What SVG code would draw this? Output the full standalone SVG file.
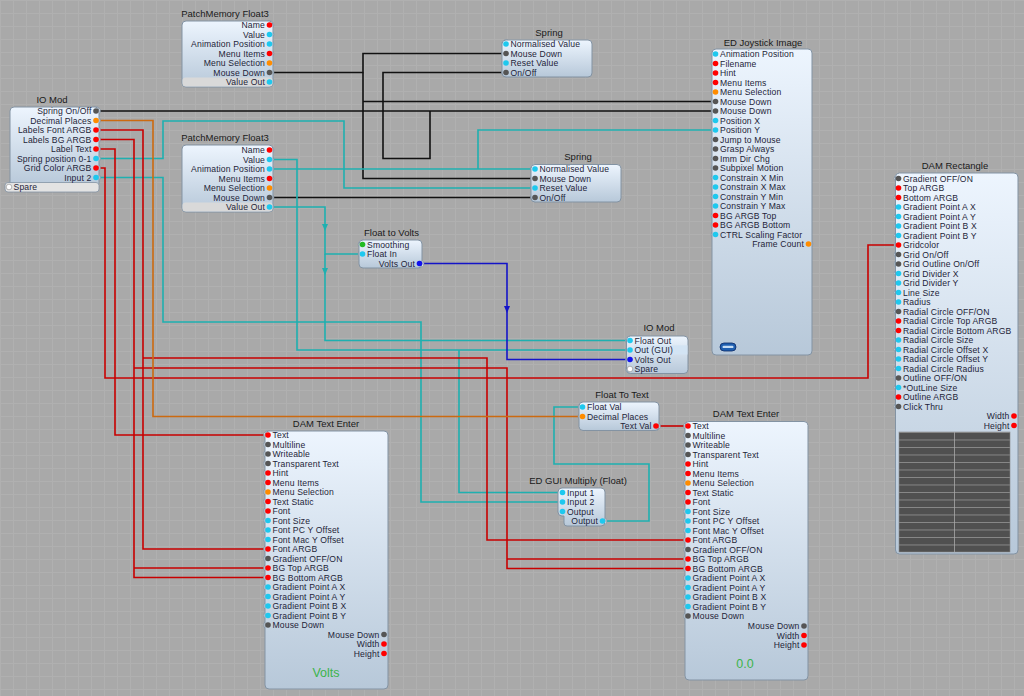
<svg xmlns="http://www.w3.org/2000/svg" width="1024" height="696" viewBox="0 0 1024 696">
<defs>
<pattern id="grid" width="13" height="13" patternUnits="userSpaceOnUse">
<rect width="13" height="13" fill="#a9a9a9"/>
<path d="M0 0.5H13M0.5 0V13" stroke="#b0b0b0" stroke-width="1"/>
</pattern>
<pattern id="gpanel" x="899" y="432" width="111" height="7.5" patternUnits="userSpaceOnUse">
<rect width="111" height="7.5" fill="#505050"/>
<path d="M0 0.4H111" stroke="#9a9a9a" stroke-width="0.8"/>
</pattern>
<linearGradient id="g" x1="0" y1="0" x2="0" y2="1">
<stop offset="0" stop-color="#edf5fe"/>
<stop offset="1" stop-color="#b7c8d9"/>
</linearGradient>
<path id="arr" d="M-3,-4 L3,-4 L0,3 Z"/>
<style>
.box{fill:url(#g);stroke:#8393a3;stroke-width:1}
.halo{fill:#eef3f8;stroke:#8393a3;stroke-width:0.8}
.band{fill:#d9d9d9}
text{font-family:"Liberation Sans",Arial,sans-serif}
.p{font-size:8.6px;fill:#1e1e38;letter-spacing:0.15px}
.e{text-anchor:end}
.h{font-size:9.5px;fill:#1a1a1a;text-anchor:middle}
.w{fill:none;stroke-width:1.6}
.k{stroke:#111}
.c{stroke:#1eb0b0}
.rd{stroke:#c80000}
.o{stroke:#cc6a10}
.b{stroke:#1414c8}
.dr{fill:#ff0000}
.dc{fill:#1ec8ee}
.do{fill:#ff8c00}
.dg{fill:#555}
.db{fill:#1111ee}
.dn{fill:#22bb22}
.dw{fill:#fff;stroke:#888;stroke-width:0.6}
.big{font-size:12.5px;fill:#3cb44b;text-anchor:middle}
</style>
</defs>
<rect width="1024" height="696" fill="url(#grid)"/>

<g id="connectors">
<path class="w k" d="M270,72.5 H363 V53.5 H506"/>
<path class="w k" d="M363,72.5 V178.5 H535"/>
<path class="w k" d="M363,101.5 H715.5"/>
<path class="w k" d="M96,111 H715.5"/>
<path class="w k" d="M430,111 V158.5 H383 V72.5 H506"/>
<path class="w k" d="M270,197.5 H535"/>
<path class="w c" d="M96,158.5 H163 V121 H344 V188 H535"/>
<path class="w c" d="M96,177.5 H163 V322 H421 V502 H562.5"/>
<path class="w c" d="M270,159.5 H297 V350 H630"/>
<path class="w c" d="M459,350 V492.5 H562.5"/>
<path class="w c" d="M270,207 H325 V254 H362.5"/>
<path class="w c" d="M325,254 V340.5 H630"/>
<path class="w c" d="M270,169 H535"/>
<path class="w c" d="M478,169 V130 H715.5"/>
<path class="w c" d="M602.5,521 H649 V464 H554 V407 H582.5"/>
<path class="w rd" d="M96,168 H105 V378 H868 V245 H898.5"/>
<path class="w rd" d="M96,149 H115 V435 H268"/>
<path class="w rd" d="M96,130 H143 V549 H268"/>
<path class="w rd" d="M143,358 H487 V540 H688"/>
<path class="w rd" d="M96,139.5 H134 V577.5 H268 M134,568 H268"/>
<path class="w rd" d="M134,368 H507 V568.5 H688 M507,559 H688"/>
<path class="w rd" d="M656,426 H688"/>
<path class="w o" d="M96,120.5 H153 V416.5 H582.5"/>
<path class="w b" d="M419.5,263.5 H507 V359.5 H630"/>
<use href="#arr" x="325" y="228" fill="#1eb0b0"/>
<use href="#arr" x="325" y="272" fill="#1eb0b0"/>
<use href="#arr" x="507" y="310" fill="#1414c8"/>
</g>

<g id="io-mod-1">
<text class="h" x="52" y="102.5">IO Mod</text>
<g class="halo"><circle cx="96" cy="111" r="4.3"/><circle cx="96" cy="120.5" r="4.3"/><circle cx="96" cy="130" r="4.3"/><circle cx="96" cy="139.5" r="4.3"/><circle cx="96" cy="149" r="4.3"/><circle cx="96" cy="158.5" r="4.3"/><circle cx="96" cy="168" r="4.3"/><circle cx="96" cy="177.5" r="4.3"/></g>
<rect class="box" x="10" y="107" width="89" height="80" rx="4"/>
<rect x="5" y="182.5" width="94" height="9.5" rx="3" fill="#e3e3e3" stroke="#8393a3" stroke-width="0.8"/>
<circle class="dg" cx="96" cy="111" r="2.8"/><circle class="do" cx="96" cy="120.5" r="2.8"/><circle class="dr" cx="96" cy="130" r="2.8"/><circle class="dr" cx="96" cy="139.5" r="2.8"/><circle class="dr" cx="96" cy="149" r="2.8"/><circle class="dc" cx="96" cy="158.5" r="2.8"/><circle class="dr" cx="96" cy="168" r="2.8"/><circle class="dc" cx="96" cy="177.5" r="2.8"/>
<circle class="dw" cx="9" cy="187" r="2.8"/>
<g class="p e">
<text x="91.5" y="114">Spring On/Off</text><text x="91.5" y="123.5">Decimal Places</text><text x="91.5" y="133">Labels Font ARGB</text><text x="91.5" y="142.5">Labels BG ARGB</text><text x="91.5" y="152">Label Text</text><text x="91.5" y="161.5">Spring position 0-1</text><text x="91.5" y="171">Grid Color ARGB</text><text x="91.5" y="180.5">Input 2</text>
</g>
<text class="p" x="13.5" y="190">Spare</text>
</g>

<g id="pm-float3-1">
<text class="h" x="225" y="16.5">PatchMemory Float3</text>
<g class="halo"><circle cx="269.5" cy="25" r="4.3"/><circle cx="269.5" cy="34.5" r="4.3"/><circle cx="269.5" cy="44" r="4.3"/><circle cx="269.5" cy="53.5" r="4.3"/><circle cx="269.5" cy="63" r="4.3"/><circle cx="269.5" cy="72.5" r="4.3"/><circle cx="269.5" cy="82" r="4.3"/></g>
<rect class="box" x="182" y="21" width="91" height="66" rx="4"/>
<rect class="band" x="182.5" y="77.5" width="90" height="9" rx="3"/>
<circle class="dr" cx="269.5" cy="25" r="2.8"/><circle class="dc" cx="269.5" cy="34.5" r="2.8"/><circle class="dc" cx="269.5" cy="44" r="2.8"/><circle class="dr" cx="269.5" cy="53.5" r="2.8"/><circle class="do" cx="269.5" cy="63" r="2.8"/><circle class="dg" cx="269.5" cy="72.5" r="2.8"/><circle class="dc" cx="269.5" cy="82" r="2.8"/>
<g class="p e">
<text x="265" y="28">Name</text><text x="265" y="37.5">Value</text><text x="265" y="47">Animation Position</text><text x="265" y="56.5">Menu Items</text><text x="265" y="66">Menu Selection</text><text x="265" y="75.5">Mouse Down</text><text x="265" y="85">Value Out</text>
</g>
</g>

<g id="pm-float3-2">
<text class="h" x="225" y="140.5">PatchMemory Float3</text>
<g class="halo"><circle cx="269.5" cy="150" r="4.3"/><circle cx="269.5" cy="159.5" r="4.3"/><circle cx="269.5" cy="169" r="4.3"/><circle cx="269.5" cy="178.5" r="4.3"/><circle cx="269.5" cy="188" r="4.3"/><circle cx="269.5" cy="197.5" r="4.3"/><circle cx="269.5" cy="207" r="4.3"/></g>
<rect class="box" x="182" y="145" width="91" height="67" rx="4"/>
<rect class="band" x="182.5" y="202.5" width="90" height="9" rx="3"/>
<circle class="dr" cx="269.5" cy="150" r="2.8"/><circle class="dc" cx="269.5" cy="159.5" r="2.8"/><circle class="dc" cx="269.5" cy="169" r="2.8"/><circle class="dr" cx="269.5" cy="178.5" r="2.8"/><circle class="do" cx="269.5" cy="188" r="2.8"/><circle class="dg" cx="269.5" cy="197.5" r="2.8"/><circle class="dc" cx="269.5" cy="207" r="2.8"/>
<g class="p e">
<text x="265" y="153">Name</text><text x="265" y="162.5">Value</text><text x="265" y="172">Animation Position</text><text x="265" y="181.5">Menu Items</text><text x="265" y="191">Menu Selection</text><text x="265" y="200.5">Mouse Down</text><text x="265" y="210">Value Out</text>
</g>
</g>

<g id="spring-1">
<text class="h" x="549" y="35.5">Spring</text>
<g class="halo"><circle cx="506" cy="44" r="4.3"/><circle cx="506" cy="53.5" r="4.3"/><circle cx="506" cy="63" r="4.3"/><circle cx="506" cy="72.5" r="4.3"/></g>
<rect class="box" x="502" y="40" width="90" height="37" rx="4"/>
<circle class="dc" cx="506" cy="44" r="2.8"/><circle class="dg" cx="506" cy="53.5" r="2.8"/><circle class="dc" cx="506" cy="63" r="2.8"/><circle class="dg" cx="506" cy="72.5" r="2.8"/>
<g class="p">
<text x="510.5" y="47">Normalised Value</text><text x="510.5" y="56.5">Mouse Down</text><text x="510.5" y="66">Reset Value</text><text x="510.5" y="75.5">On/Off</text>
</g>
</g>

<g id="spring-2">
<text class="h" x="578" y="159.5">Spring</text>
<g class="halo"><circle cx="535" cy="169" r="4.3"/><circle cx="535" cy="178.5" r="4.3"/><circle cx="535" cy="188" r="4.3"/><circle cx="535" cy="197.5" r="4.3"/></g>
<rect class="box" x="531" y="164.5" width="90" height="37.5" rx="4"/>
<circle class="dc" cx="535" cy="169" r="2.8"/><circle class="dg" cx="535" cy="178.5" r="2.8"/><circle class="dc" cx="535" cy="188" r="2.8"/><circle class="dg" cx="535" cy="197.5" r="2.8"/>
<g class="p">
<text x="539.5" y="172">Normalised Value</text><text x="539.5" y="181.5">Mouse Down</text><text x="539.5" y="191">Reset Value</text><text x="539.5" y="200.5">On/Off</text>
</g>
</g>

<g id="ed-joystick-image">
<text class="h" x="763" y="45.5">ED Joystick Image</text>
<g class="halo">
<circle cx="715.5" cy="54" r="4.3"/><circle cx="715.5" cy="63.5" r="4.3"/><circle cx="715.5" cy="73" r="4.3"/><circle cx="715.5" cy="82.5" r="4.3"/><circle cx="715.5" cy="92" r="4.3"/><circle cx="715.5" cy="101.5" r="4.3"/><circle cx="715.5" cy="111" r="4.3"/><circle cx="715.5" cy="120.5" r="4.3"/><circle cx="715.5" cy="130" r="4.3"/><circle cx="715.5" cy="139.5" r="4.3"/><circle cx="715.5" cy="149" r="4.3"/><circle cx="715.5" cy="158.5" r="4.3"/><circle cx="715.5" cy="168" r="4.3"/><circle cx="715.5" cy="177.5" r="4.3"/><circle cx="715.5" cy="187" r="4.3"/><circle cx="715.5" cy="196.5" r="4.3"/><circle cx="715.5" cy="206" r="4.3"/><circle cx="715.5" cy="215.5" r="4.3"/><circle cx="715.5" cy="225" r="4.3"/><circle cx="715.5" cy="234.5" r="4.3"/><circle cx="808.5" cy="244" r="4.3"/>
</g>
<rect class="box" x="712" y="49" width="100" height="306" rx="4"/>
<circle class="dc" cx="715.5" cy="54" r="2.8"/><circle class="dr" cx="715.5" cy="63.5" r="2.8"/><circle class="dr" cx="715.5" cy="73" r="2.8"/><circle class="dr" cx="715.5" cy="82.5" r="2.8"/><circle class="do" cx="715.5" cy="92" r="2.8"/><circle class="dg" cx="715.5" cy="101.5" r="2.8"/><circle class="dg" cx="715.5" cy="111" r="2.8"/><circle class="dc" cx="715.5" cy="120.5" r="2.8"/><circle class="dc" cx="715.5" cy="130" r="2.8"/><circle class="dg" cx="715.5" cy="139.5" r="2.8"/><circle class="dg" cx="715.5" cy="149" r="2.8"/><circle class="dg" cx="715.5" cy="158.5" r="2.8"/><circle class="dg" cx="715.5" cy="168" r="2.8"/><circle class="dc" cx="715.5" cy="177.5" r="2.8"/><circle class="dc" cx="715.5" cy="187" r="2.8"/><circle class="dc" cx="715.5" cy="196.5" r="2.8"/><circle class="dc" cx="715.5" cy="206" r="2.8"/><circle class="dr" cx="715.5" cy="215.5" r="2.8"/><circle class="dr" cx="715.5" cy="225" r="2.8"/><circle class="dc" cx="715.5" cy="234.5" r="2.8"/><circle class="do" cx="808.5" cy="244" r="2.8"/>
<g class="p">
<text x="720" y="57">Animation Position</text><text x="720" y="66.5">Filename</text><text x="720" y="76">Hint</text><text x="720" y="85.5">Menu Items</text><text x="720" y="95">Menu Selection</text><text x="720" y="104.5">Mouse Down</text><text x="720" y="114">Mouse Down</text><text x="720" y="123.5">Position X</text><text x="720" y="133">Position Y</text><text x="720" y="142.5">Jump to Mouse</text><text x="720" y="152">Grasp Always</text><text x="720" y="161.5">Imm Dir Chg</text><text x="720" y="171">Subpixel Motion</text><text x="720" y="180.5">Constrain X Min</text><text x="720" y="190">Constrain X Max</text><text x="720" y="199.5">Constrain Y Min</text><text x="720" y="209">Constrain Y Max</text><text x="720" y="218.5">BG ARGB Top</text><text x="720" y="228">BG ARGB Bottom</text><text x="720" y="237.5">CTRL Scaling Factor</text>
<text class="e" x="804" y="247">Frame Count</text>
</g>
<rect x="720" y="343" width="16" height="8" rx="4" fill="#1f5fb0" stroke="#0b2a66" stroke-width="0.8"/>
<rect x="722.5" y="345.7" width="11" height="2.4" rx="1.2" fill="#c4dcf4"/>
</g>

<g id="dam-rectangle">
<text class="h" x="955" y="168.5">DAM Rectangle</text>
<g class="halo">
<circle cx="898.5" cy="178.5" r="4.3"/><circle cx="898.5" cy="188" r="4.3"/><circle cx="898.5" cy="197.5" r="4.3"/><circle cx="898.5" cy="207" r="4.3"/><circle cx="898.5" cy="216.5" r="4.3"/><circle cx="898.5" cy="226" r="4.3"/><circle cx="898.5" cy="235.5" r="4.3"/><circle cx="898.5" cy="245" r="4.3"/><circle cx="898.5" cy="254.5" r="4.3"/><circle cx="898.5" cy="264" r="4.3"/><circle cx="898.5" cy="273.5" r="4.3"/><circle cx="898.5" cy="283" r="4.3"/><circle cx="898.5" cy="292.5" r="4.3"/><circle cx="898.5" cy="302" r="4.3"/><circle cx="898.5" cy="311.5" r="4.3"/><circle cx="898.5" cy="321" r="4.3"/><circle cx="898.5" cy="330.5" r="4.3"/><circle cx="898.5" cy="340" r="4.3"/><circle cx="898.5" cy="349.5" r="4.3"/><circle cx="898.5" cy="359" r="4.3"/><circle cx="898.5" cy="368.5" r="4.3"/><circle cx="898.5" cy="378" r="4.3"/><circle cx="898.5" cy="387.5" r="4.3"/><circle cx="898.5" cy="397" r="4.3"/><circle cx="898.5" cy="406.5" r="4.3"/><circle cx="1014" cy="416" r="4.3"/><circle cx="1014" cy="425.5" r="4.3"/>
</g>
<rect class="box" x="895.5" y="173" width="122.5" height="381" rx="4"/>
<circle class="dg" cx="898.5" cy="178.5" r="2.8"/><circle class="dr" cx="898.5" cy="188" r="2.8"/><circle class="dr" cx="898.5" cy="197.5" r="2.8"/><circle class="dc" cx="898.5" cy="207" r="2.8"/><circle class="dc" cx="898.5" cy="216.5" r="2.8"/><circle class="dc" cx="898.5" cy="226" r="2.8"/><circle class="dc" cx="898.5" cy="235.5" r="2.8"/><circle class="dr" cx="898.5" cy="245" r="2.8"/><circle class="dg" cx="898.5" cy="254.5" r="2.8"/><circle class="dg" cx="898.5" cy="264" r="2.8"/><circle class="dc" cx="898.5" cy="273.5" r="2.8"/><circle class="dc" cx="898.5" cy="283" r="2.8"/><circle class="dc" cx="898.5" cy="292.5" r="2.8"/><circle class="dc" cx="898.5" cy="302" r="2.8"/><circle class="dg" cx="898.5" cy="311.5" r="2.8"/><circle class="dr" cx="898.5" cy="321" r="2.8"/><circle class="dr" cx="898.5" cy="330.5" r="2.8"/><circle class="dc" cx="898.5" cy="340" r="2.8"/><circle class="dc" cx="898.5" cy="349.5" r="2.8"/><circle class="dc" cx="898.5" cy="359" r="2.8"/><circle class="dc" cx="898.5" cy="368.5" r="2.8"/><circle class="dg" cx="898.5" cy="378" r="2.8"/><circle class="dc" cx="898.5" cy="387.5" r="2.8"/><circle class="dr" cx="898.5" cy="397" r="2.8"/><circle class="dg" cx="898.5" cy="406.5" r="2.8"/><circle class="dr" cx="1014" cy="416" r="2.8"/><circle class="dr" cx="1014" cy="425.5" r="2.8"/>
<g class="p">
<text x="903" y="181.5">Gradient OFF/ON</text><text x="903" y="191">Top ARGB</text><text x="903" y="200.5">Bottom ARGB</text><text x="903" y="210">Gradient Point A X</text><text x="903" y="219.5">Gradient Point A Y</text><text x="903" y="229">Gradient Point B X</text><text x="903" y="238.5">Gradient Point B Y</text><text x="903" y="248">Gridcolor</text><text x="903" y="257.5">Grid On/Off</text><text x="903" y="267">Grid Outline On/Off</text><text x="903" y="276.5">Grid Divider X</text><text x="903" y="286">Grid Divider Y</text><text x="903" y="295.5">Line Size</text><text x="903" y="305">Radius</text><text x="903" y="314.5">Radial Circle OFF/ON</text><text x="903" y="324">Radial Circle Top ARGB</text><text x="903" y="333.5">Radial Circle Bottom ARGB</text><text x="903" y="343">Radial Circle Size</text><text x="903" y="352.5">Radial Circle Offset X</text><text x="903" y="362">Radial Circle Offset Y</text><text x="903" y="371.5">Radial Circle Radius</text><text x="903" y="381">Outline OFF/ON</text><text x="903" y="390.5">*OutLine Size</text><text x="903" y="400">Outline ARGB</text><text x="903" y="409.5">Click Thru</text>
<text class="e" x="1009.5" y="419">Width</text><text class="e" x="1009.5" y="428.5">Height</text>
</g>
<rect x="899" y="432" width="111" height="120" fill="url(#gpanel)" stroke="#888" stroke-width="0.6"/>
<path d="M954.5 432V552" stroke="#a8a8a8" stroke-width="0.8"/>
</g>

<g id="float-to-volts">
<text class="h" x="391.5" y="235.5">Float to Volts</text>
<g class="halo"><circle cx="362.5" cy="244.5" r="4.3"/><circle cx="362.5" cy="254" r="4.3"/><circle cx="419.5" cy="263.5" r="4.3"/></g>
<rect class="box" x="359" y="240" width="63" height="28" rx="4"/>
<circle class="dn" cx="362.5" cy="244.5" r="2.8"/><circle class="dc" cx="362.5" cy="254" r="2.8"/><circle class="db" cx="419.5" cy="263.5" r="2.8"/>
<g class="p">
<text x="367" y="247.5">Smoothing</text><text x="367" y="257">Float In</text><text class="e" x="415" y="266.5">Volts Out</text>
</g>
</g>

<g id="io-mod-2">
<text class="h" x="659" y="330.5">IO Mod</text>
<g class="halo"><circle cx="630" cy="340.5" r="4.3"/><circle cx="630" cy="350" r="4.3"/><circle cx="630" cy="359.5" r="4.3"/><circle cx="630" cy="369" r="4.3"/></g>
<rect class="box" x="626.5" y="336" width="61.5" height="37.5" rx="4"/>
<rect x="634" y="345.3" width="53.5" height="9.2" fill="#d3e4f4"/>
<circle class="dc" cx="630" cy="340.5" r="2.8"/><circle class="dc" cx="630" cy="350" r="2.8"/><circle class="db" cx="630" cy="359.5" r="2.8"/><circle class="dw" cx="630" cy="369" r="2.8"/>
<g class="p">
<text x="634.5" y="343.5">Float Out</text><text x="634.5" y="353">Out (GUI)</text><text x="634.5" y="362.5">Volts Out</text><text x="634.5" y="372">Spare</text>
</g>
</g>

<g id="float-to-text">
<text class="h" x="622" y="397.5">Float To Text</text>
<g class="halo"><circle cx="582.5" cy="407" r="4.3"/><circle cx="582.5" cy="416.5" r="4.3"/><circle cx="656" cy="426" r="4.3"/></g>
<rect class="box" x="579" y="402" width="80" height="28.5" rx="4"/>
<circle class="dc" cx="582.5" cy="407" r="2.8"/><circle class="do" cx="582.5" cy="416.5" r="2.8"/><circle class="dr" cx="656" cy="426" r="2.8"/>
<g class="p">
<text x="587" y="410">Float Val</text><text x="587" y="419.5">Decimal Places</text><text class="e" x="651.5" y="429">Text Val</text>
</g>
</g>

<g id="ed-gui-multiply">
<text class="h" x="578" y="483.5">ED GUI Multiply (Float)</text>
<g class="halo"><circle cx="562.5" cy="492.5" r="4.3"/><circle cx="562.5" cy="502" r="4.3"/><circle cx="562.5" cy="511.5" r="4.3"/><circle cx="602.5" cy="521" r="4.3"/></g>
<path class="box" d="M562,488 H601 Q605,488 605,492 V522 Q605,526 601,526 H567 Q564,526 564,523 V516 H562 Q558,516 558,512 V492 Q558,488 562,488 Z"/>
<circle class="dc" cx="562.5" cy="492.5" r="2.8"/><circle class="dc" cx="562.5" cy="502" r="2.8"/><circle class="dc" cx="562.5" cy="511.5" r="2.8"/><circle class="dc" cx="602.5" cy="521" r="2.8"/>
<g class="p">
<text x="567" y="495.5">Input 1</text><text x="567" y="505">Input 2</text><text x="567" y="514.5">Output</text><text class="e" x="598" y="524">Output</text>
</g>
</g>

<g id="dam-text-enter-1">
<text class="h" x="326" y="426.5">DAM Text Enter</text>
<g class="halo">
<circle cx="268" cy="435" r="4.3"/><circle cx="268" cy="444.5" r="4.3"/><circle cx="268" cy="454" r="4.3"/><circle cx="268" cy="463.5" r="4.3"/><circle cx="268" cy="473" r="4.3"/><circle cx="268" cy="482.5" r="4.3"/><circle cx="268" cy="492" r="4.3"/><circle cx="268" cy="501.5" r="4.3"/><circle cx="268" cy="511" r="4.3"/><circle cx="268" cy="520.5" r="4.3"/><circle cx="268" cy="530" r="4.3"/><circle cx="268" cy="539.5" r="4.3"/><circle cx="268" cy="549" r="4.3"/><circle cx="268" cy="558.5" r="4.3"/><circle cx="268" cy="568" r="4.3"/><circle cx="268" cy="577.5" r="4.3"/><circle cx="268" cy="587" r="4.3"/><circle cx="268" cy="596.5" r="4.3"/><circle cx="268" cy="606" r="4.3"/><circle cx="268" cy="615.5" r="4.3"/><circle cx="268" cy="625" r="4.3"/><circle cx="384" cy="634.5" r="4.3"/><circle cx="384" cy="644" r="4.3"/><circle cx="384" cy="653.5" r="4.3"/>
</g>
<rect class="box" x="265" y="431" width="123" height="258" rx="4"/>
<circle class="dr" cx="268" cy="435" r="2.8"/><circle class="dg" cx="268" cy="444.5" r="2.8"/><circle class="dg" cx="268" cy="454" r="2.8"/><circle class="dg" cx="268" cy="463.5" r="2.8"/><circle class="dr" cx="268" cy="473" r="2.8"/><circle class="dr" cx="268" cy="482.5" r="2.8"/><circle class="do" cx="268" cy="492" r="2.8"/><circle class="dr" cx="268" cy="501.5" r="2.8"/><circle class="dr" cx="268" cy="511" r="2.8"/><circle class="dc" cx="268" cy="520.5" r="2.8"/><circle class="dc" cx="268" cy="530" r="2.8"/><circle class="dc" cx="268" cy="539.5" r="2.8"/><circle class="dr" cx="268" cy="549" r="2.8"/><circle class="dg" cx="268" cy="558.5" r="2.8"/><circle class="dr" cx="268" cy="568" r="2.8"/><circle class="dr" cx="268" cy="577.5" r="2.8"/><circle class="dc" cx="268" cy="587" r="2.8"/><circle class="dc" cx="268" cy="596.5" r="2.8"/><circle class="dc" cx="268" cy="606" r="2.8"/><circle class="dc" cx="268" cy="615.5" r="2.8"/><circle class="dg" cx="268" cy="625" r="2.8"/><circle class="dg" cx="384" cy="634.5" r="2.8"/><circle class="dr" cx="384" cy="644" r="2.8"/><circle class="dr" cx="384" cy="653.5" r="2.8"/>
<g class="p">
<text x="272.5" y="438">Text</text><text x="272.5" y="447.5">Multiline</text><text x="272.5" y="457">Writeable</text><text x="272.5" y="466.5">Transparent Text</text><text x="272.5" y="476">Hint</text><text x="272.5" y="485.5">Menu Items</text><text x="272.5" y="495">Menu Selection</text><text x="272.5" y="504.5">Text Static</text><text x="272.5" y="514">Font</text><text x="272.5" y="523.5">Font Size</text><text x="272.5" y="533">Font PC Y Offset</text><text x="272.5" y="542.5">Font Mac Y Offset</text><text x="272.5" y="552">Font ARGB</text><text x="272.5" y="561.5">Gradient OFF/ON</text><text x="272.5" y="571">BG Top ARGB</text><text x="272.5" y="580.5">BG Bottom ARGB</text><text x="272.5" y="590">Gradient Point A X</text><text x="272.5" y="599.5">Gradient Point A Y</text><text x="272.5" y="609">Gradient Point B X</text><text x="272.5" y="618.5">Gradient Point B Y</text><text x="272.5" y="628">Mouse Down</text>
<text class="e" x="379.5" y="637.5">Mouse Down</text><text class="e" x="379.5" y="647">Width</text><text class="e" x="379.5" y="656.5">Height</text>
</g>
<text class="big" x="326" y="676.5">Volts</text>
</g>

<g id="dam-text-enter-2">
<text class="h" x="746" y="416.5">DAM Text Enter</text>
<g class="halo">
<circle cx="688" cy="426" r="4.3"/><circle cx="688" cy="435.5" r="4.3"/><circle cx="688" cy="445" r="4.3"/><circle cx="688" cy="454.5" r="4.3"/><circle cx="688" cy="464" r="4.3"/><circle cx="688" cy="473.5" r="4.3"/><circle cx="688" cy="483" r="4.3"/><circle cx="688" cy="492.5" r="4.3"/><circle cx="688" cy="502" r="4.3"/><circle cx="688" cy="511.5" r="4.3"/><circle cx="688" cy="521" r="4.3"/><circle cx="688" cy="530.5" r="4.3"/><circle cx="688" cy="540" r="4.3"/><circle cx="688" cy="549.5" r="4.3"/><circle cx="688" cy="559" r="4.3"/><circle cx="688" cy="568.5" r="4.3"/><circle cx="688" cy="578" r="4.3"/><circle cx="688" cy="587.5" r="4.3"/><circle cx="688" cy="597" r="4.3"/><circle cx="688" cy="606.5" r="4.3"/><circle cx="688" cy="616" r="4.3"/><circle cx="804" cy="626" r="4.3"/><circle cx="804" cy="635.5" r="4.3"/><circle cx="804" cy="645" r="4.3"/>
</g>
<rect class="box" x="685" y="421.5" width="123" height="258.5" rx="4"/>
<circle class="dr" cx="688" cy="426" r="2.8"/><circle class="dg" cx="688" cy="435.5" r="2.8"/><circle class="dg" cx="688" cy="445" r="2.8"/><circle class="dg" cx="688" cy="454.5" r="2.8"/><circle class="dr" cx="688" cy="464" r="2.8"/><circle class="dr" cx="688" cy="473.5" r="2.8"/><circle class="do" cx="688" cy="483" r="2.8"/><circle class="dr" cx="688" cy="492.5" r="2.8"/><circle class="dr" cx="688" cy="502" r="2.8"/><circle class="dc" cx="688" cy="511.5" r="2.8"/><circle class="dc" cx="688" cy="521" r="2.8"/><circle class="dc" cx="688" cy="530.5" r="2.8"/><circle class="dr" cx="688" cy="540" r="2.8"/><circle class="dg" cx="688" cy="549.5" r="2.8"/><circle class="dr" cx="688" cy="559" r="2.8"/><circle class="dr" cx="688" cy="568.5" r="2.8"/><circle class="dc" cx="688" cy="578" r="2.8"/><circle class="dc" cx="688" cy="587.5" r="2.8"/><circle class="dc" cx="688" cy="597" r="2.8"/><circle class="dc" cx="688" cy="606.5" r="2.8"/><circle class="dg" cx="688" cy="616" r="2.8"/><circle class="dg" cx="804" cy="626" r="2.8"/><circle class="dr" cx="804" cy="635.5" r="2.8"/><circle class="dr" cx="804" cy="645" r="2.8"/>
<g class="p">
<text x="692.5" y="429">Text</text><text x="692.5" y="438.5">Multiline</text><text x="692.5" y="448">Writeable</text><text x="692.5" y="457.5">Transparent Text</text><text x="692.5" y="467">Hint</text><text x="692.5" y="476.5">Menu Items</text><text x="692.5" y="486">Menu Selection</text><text x="692.5" y="495.5">Text Static</text><text x="692.5" y="505">Font</text><text x="692.5" y="514.5">Font Size</text><text x="692.5" y="524">Font PC Y Offset</text><text x="692.5" y="533.5">Font Mac Y Offset</text><text x="692.5" y="543">Font ARGB</text><text x="692.5" y="552.5">Gradient OFF/ON</text><text x="692.5" y="562">BG Top ARGB</text><text x="692.5" y="571.5">BG Bottom ARGB</text><text x="692.5" y="581">Gradient Point A X</text><text x="692.5" y="590.5">Gradient Point A Y</text><text x="692.5" y="600">Gradient Point B X</text><text x="692.5" y="609.5">Gradient Point B Y</text><text x="692.5" y="619">Mouse Down</text>
<text class="e" x="799.5" y="629">Mouse Down</text><text class="e" x="799.5" y="638.5">Width</text><text class="e" x="799.5" y="648">Height</text>
</g>
<text class="big" x="745" y="667.5">0.0</text>
</g>
</svg>
